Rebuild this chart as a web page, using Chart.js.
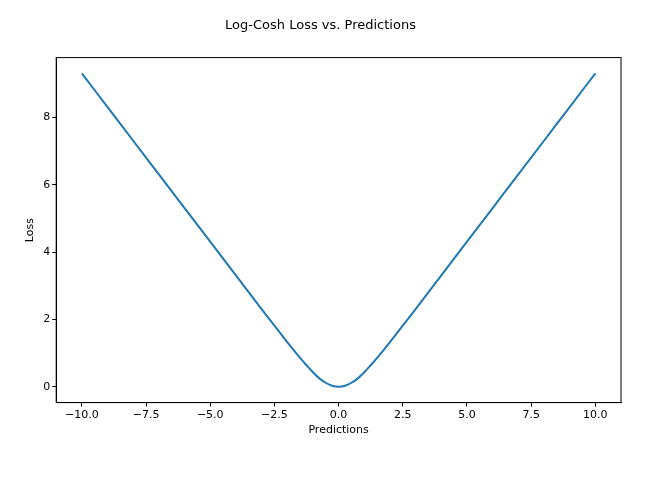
<!DOCTYPE html>
<html>
<head>
<meta charset="utf-8">
<script src="https://cdn.jsdelivr.net/npm/chart.js@4"></script>
<style>
  html, body { margin: 0; padding: 0; background: #fff; }
  #wrap { width: 656px; height: 485px; }
</style>
</head>
<body>
<div id="wrap"><canvas id="c" width="656" height="485"></canvas></div>
<script>
// values
const predictions = [-10, -9, -8, -7, -6, -5, -4, -3, -2.5, -2, -1.75, -1.5, -1.25, -1, -0.75, -0.5, -0.25, 0,
                     0.25, 0.5, 0.75, 1, 1.25, 1.5, 1.75, 2, 2.5, 3, 4, 5, 6, 7, 8, 9, 10];
const loss = [9.31, 8.31, 7.31, 6.31, 5.31, 4.31, 3.31, 2.31, 1.82, 1.33, 1.09, 0.86, 0.64, 0.43, 0.25, 0.12, 0.03, 0,
              0.03, 0.12, 0.25, 0.43, 0.64, 0.86, 1.09, 1.33, 1.82, 2.31, 3.31, 4.31, 5.31, 6.31, 7.31, 8.31, 9.31];
const xTicks = [-10, -7.5, -5, -2.5, 0, 2.5, 5, 7.5, 10];
const yTicks = [0, 2, 4, 6, 8];

const font = { family: 'DejaVu Sans', size: 11 };

new Chart(document.getElementById('c').getContext('2d'), {
  type: 'line',
  data: {
    datasets: [{
      data: predictions.map((x, i) => ({ x: x, y: loss[i] })),
      borderColor: '#1f77b4',
      borderWidth: 2,
      pointRadius: 0,
      fill: false,
      cubicInterpolationMode: 'monotone'
    }]
  },
  options: {
    responsive: false,
    animation: false,
    layout: { padding: { left: 20, right: 35, top: 12, bottom: 48 } },
    plugins: {
      legend: { display: false },
      tooltip: { enabled: false },
      title: {
        display: true,
        text: 'Log-Cosh Loss vs. Predictions',
        color: '#000',
        font: { family: 'DejaVu Sans', size: 13, weight: 'normal' },
        padding: { top: 6, bottom: 24 }
      }
    },
    scales: {
      x: {
        type: 'linear',
        min: -11, max: 11,
        afterBuildTicks: s => { s.ticks = xTicks.map(v => ({ value: v })); },
        ticks: { color: '#000', font: font, maxRotation: 0, padding: 2, callback: v => v.toFixed(1).replace('-', '−') },
        grid: { display: true, drawOnChartArea: false, drawTicks: true, tickLength: 4, tickColor: '#000' },
        border: { color: '#000' },
        title: { display: true, text: 'Predictions', color: '#000', font: font, padding: 0 }
      },
      y: {
        min: -0.47, max: 9.78,
        afterBuildTicks: s => { s.ticks = yTicks.map(v => ({ value: v })); },
        ticks: { color: '#000', font: font, padding: 2 },
        grid: { display: true, drawOnChartArea: false, drawTicks: true, tickLength: 4, tickColor: '#000' },
        border: { color: '#000' },
        title: { display: true, text: 'Loss', color: '#000', font: font, padding: 4 }
      }
    }
  },
  plugins: [{
    id: 'frame',
    afterDraw(chart) {
      const a = chart.chartArea, ctx = chart.ctx;
      ctx.save();
      ctx.strokeStyle = '#000';
      ctx.lineWidth = 1;
      ctx.strokeRect(a.left, a.top, a.right - a.left, a.bottom - a.top);
      ctx.restore();
    }
  }]
});
</script>
</body>
</html>
